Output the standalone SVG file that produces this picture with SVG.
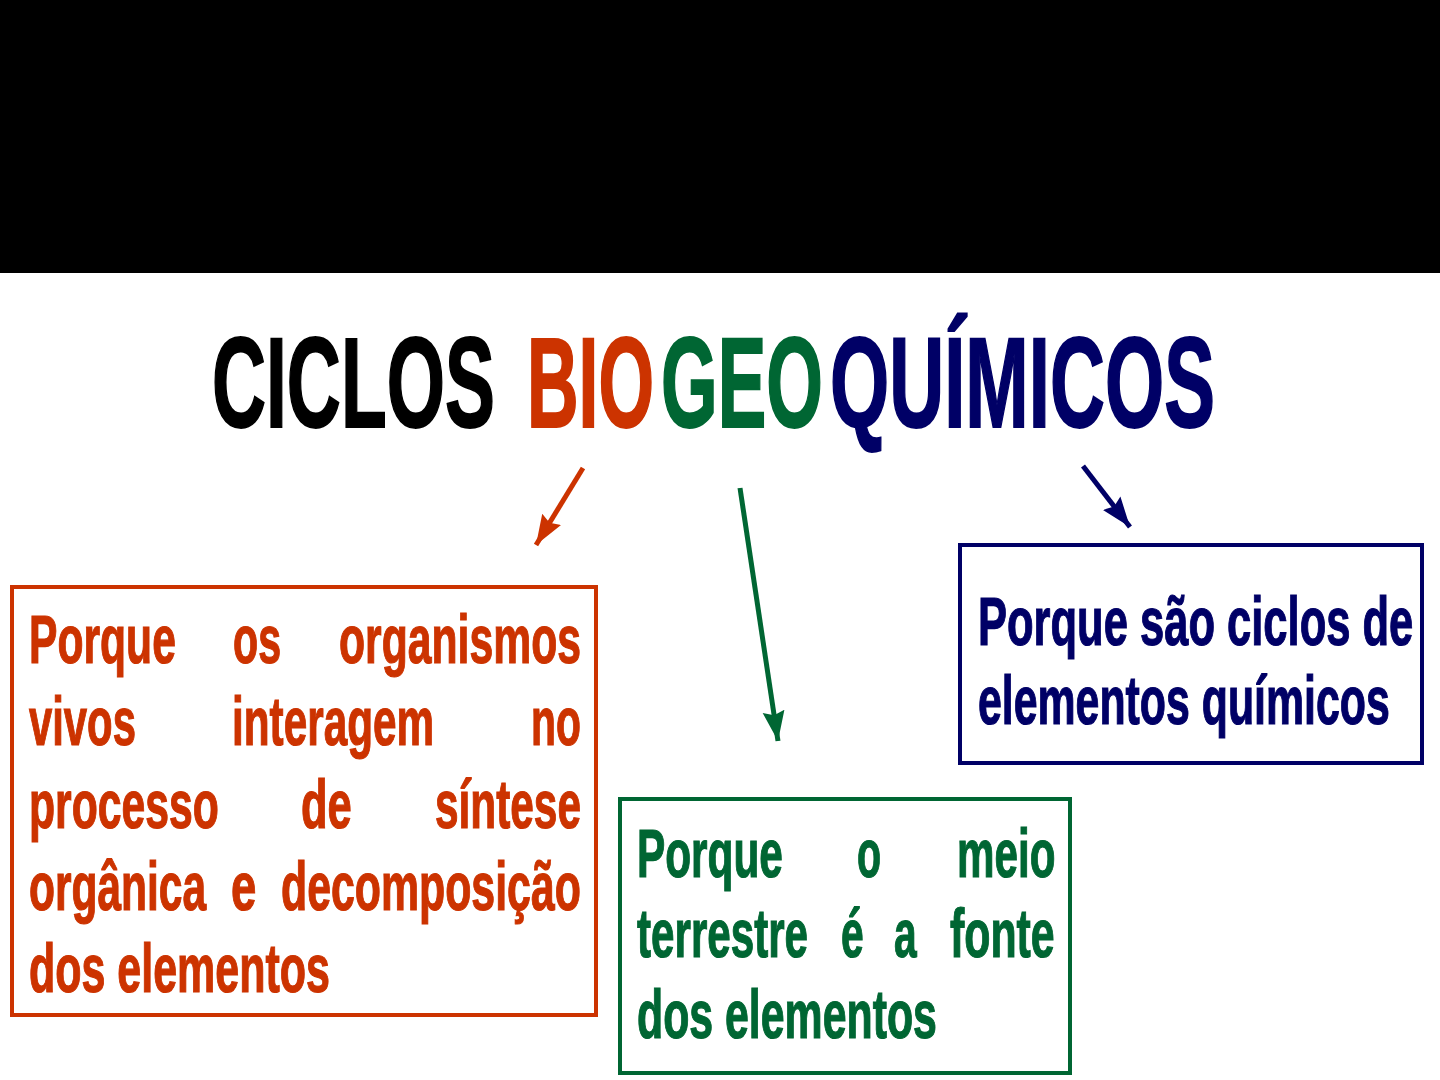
<svg xmlns="http://www.w3.org/2000/svg" width="1440" height="1080" viewBox="0 0 1440 1080">
<defs>
<style>
.t{font-family:"Liberation Sans",Arial,sans-serif;font-weight:bold;}
.title{font-size:128px;stroke-width:2;}
.b{font-size:68px;stroke-width:1.2;}
.or{fill:#CC3300;stroke:#CC3300;}
.gr{fill:#006633;stroke:#006633;}
.nv{fill:#000066;stroke:#000066;}
.bk{fill:#000000;stroke:#000000;}
.box{fill:#FFFFFF;stroke-width:4;}
.conn{fill:none;stroke-width:5;}
</style>
<marker id="ahO" markerUnits="userSpaceOnUse" markerWidth="32" markerHeight="24" refX="30" refY="11" orient="auto" viewBox="0 0 32 22">
<path d="M0,0 L30,11 L0,22 L4,11 z" fill="#CC3300"/>
</marker>
<marker id="ahG" markerUnits="userSpaceOnUse" markerWidth="32" markerHeight="24" refX="30" refY="11" orient="auto" viewBox="0 0 32 22">
<path d="M0,0 L30,11 L0,22 L4,11 z" fill="#006633"/>
</marker>
<marker id="ahN" markerUnits="userSpaceOnUse" markerWidth="32" markerHeight="24" refX="30" refY="11" orient="auto" viewBox="0 0 32 22">
<path d="M0,0 L30,11 L0,22 L4,11 z" fill="#000066"/>
</marker>
</defs>
<rect x="0" y="0" width="1440" height="1080" fill="#FFFFFF"/>
<rect x="0" y="0" width="1440" height="273" fill="#000000"/>

<g id="title">
<text class="t title bk" transform="translate(212 427) scale(0.585 1)">CICLOS</text>
<text class="t title or" transform="translate(527 427) scale(0.558 1)">BIO</text>
<text class="t title gr" transform="translate(661 427) scale(0.569 1)">GEO</text>
<text class="t title nv" transform="translate(830 427) scale(0.595 1)">QUÍMICOS</text>
</g>

<g id="connectors">
<line class="conn" stroke="#CC3300" x1="583" y1="468" x2="536" y2="545" marker-end="url(#ahO)"/>
<line class="conn" stroke="#006633" x1="740" y1="488" x2="778" y2="741" marker-end="url(#ahG)"/>
<line class="conn" stroke="#000066" x1="1083" y1="466" x2="1130" y2="527" marker-end="url(#ahN)"/>
</g>

<g id="node-organismos">
<rect class="box" stroke="#CC3300" x="12" y="587" width="584" height="428"/>
<text class="t b or" transform="translate(29 663) scale(0.627 1)">Porque</text>
<text class="t b or" transform="translate(233 663) scale(0.605 1)">os</text>
<text class="t b or" transform="translate(339 663) scale(0.628 1)">organismos</text>
<text class="t b or" transform="translate(29 745) scale(0.615 1)">vivos</text>
<text class="t b or" transform="translate(232 745) scale(0.622 1)">interagem</text>
<text class="t b or" transform="translate(531 745) scale(0.6 1)">no</text>
<text class="t b or" transform="translate(29 828) scale(0.628 1)">processo</text>
<text class="t b or" transform="translate(301 828) scale(0.64 1)">de</text>
<text class="t b or" transform="translate(435 828) scale(0.623 1)">síntese</text>
<text class="t b or" transform="translate(29 910) scale(0.625 1)">orgânica</text>
<text class="t b or" transform="translate(231 910) scale(0.67 1)">e</text>
<text class="t b or" transform="translate(281 910) scale(0.63 1)">decomposição</text>
<text class="t b or" transform="translate(29 992) scale(0.632 1)">dos elementos</text>
</g>

<g id="node-terrestre">
<rect class="box" stroke="#006633" x="620" y="799" width="450" height="274"/>
<text class="t b gr" transform="translate(637 877) scale(0.623 1)">Porque</text>
<text class="t b gr" transform="translate(857 877) scale(0.58 1)">o</text>
<text class="t b gr" transform="translate(957 877) scale(0.62 1)">meio</text>
<text class="t b gr" transform="translate(637 957) scale(0.62 1)">terrestre</text>
<text class="t b gr" transform="translate(841 957) scale(0.6 1)">é</text>
<text class="t b gr" transform="translate(894 957) scale(0.6 1)">a</text>
<text class="t b gr" transform="translate(950 957) scale(0.63 1)">fonte</text>
<text class="t b gr" transform="translate(637 1038) scale(0.63 1)">dos elementos</text>
</g>

<g id="node-quimicos">
<rect class="box" stroke="#000066" x="960" y="545" width="462" height="218"/>
<text class="t b nv" transform="translate(978 645) scale(0.64 1)">Porque são ciclos de</text>
<text class="t b nv" transform="translate(978 724) scale(0.63 1)">elementos químicos</text>
</g>
</svg>
